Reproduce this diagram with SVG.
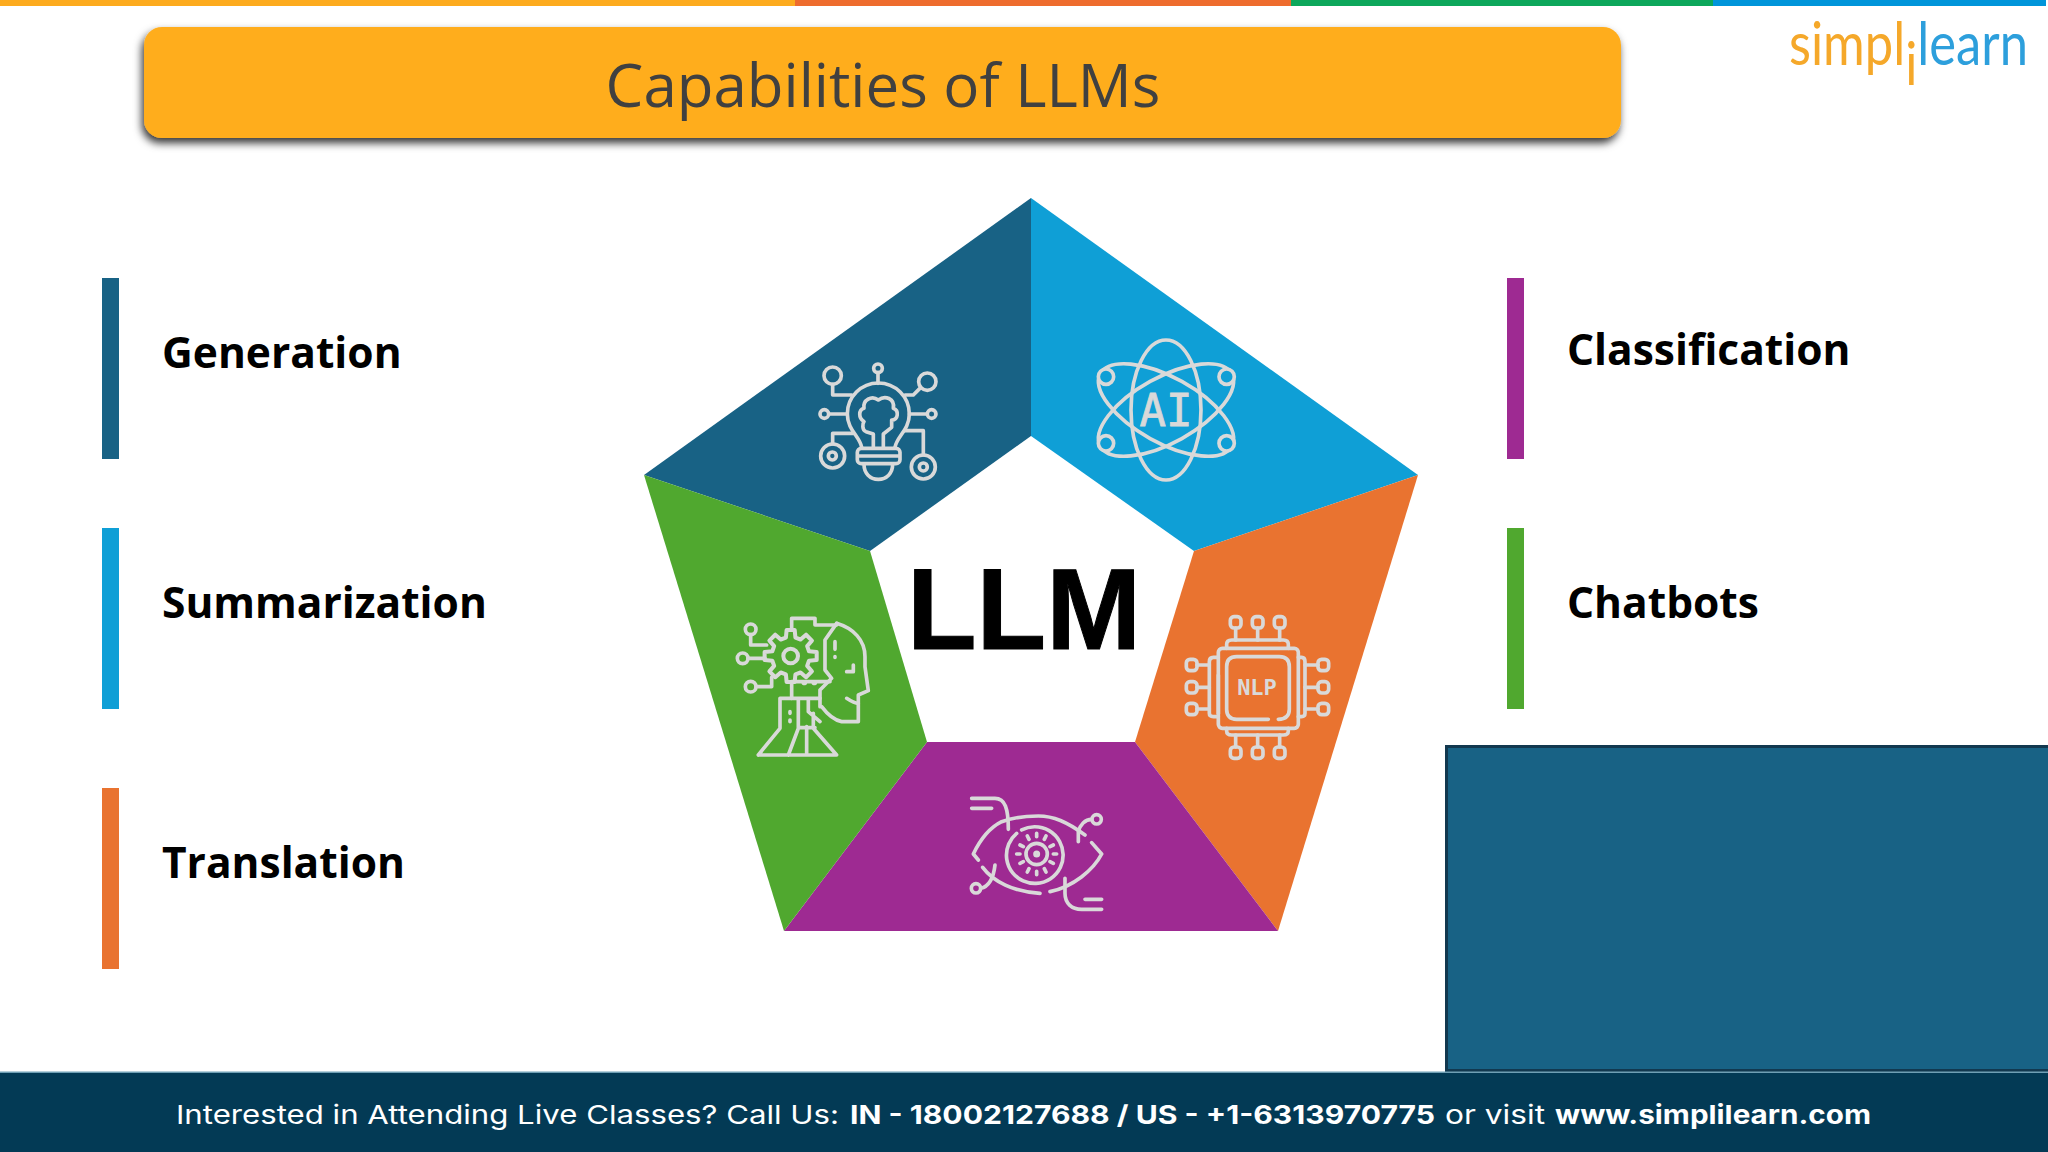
<svg xmlns="http://www.w3.org/2000/svg" xmlns:xlink="http://www.w3.org/1999/xlink" width="2048" height="1152" viewBox="0 0 2048 1152">
<style>
.ic{fill:none;stroke:#d9d9d9;stroke-width:11;stroke-linecap:round;stroke-linejoin:round}
.ict{font-weight:700;fill:#d9d9d9;text-anchor:middle;font-family:"DejaVu Sans Mono",monospace}
.lab{font-family:"Open Sans",sans-serif;font-weight:700;font-size:42.500px;fill:#000}
.ft{font-family:"Inter",sans-serif;font-size:26px;fill:#fff;font-weight:400}
.fb{font-weight:700}
.logo{font-family:"Lato",sans-serif;font-weight:400;font-size:60px}
</style>
<defs>
<filter id="sh" x="-5%" y="-30%" width="110%" height="160%"><feDropShadow dx="-2" dy="5" stdDeviation="4" flood-color="#000" flood-opacity=".8"/></filter>
<rect id="pad" x="-16" y="-17" width="32" height="34" rx="11"/>
</defs>
<rect width="2048" height="1152" fill="#fff"/>
<g id="top-strip">
<rect x="0" y="0" width="795" height="6" fill="#fdab1e"/>
<rect x="795" y="0" width="496" height="6" fill="#ee6c2e"/>
<rect x="1291" y="0" width="422" height="6" fill="#0da75b"/>
<rect x="1713" y="0" width="333" height="6" fill="#0095da"/>
</g>
<g id="title">
<rect x="144" y="27" width="1477" height="111" rx="18" fill="#ffad1f" filter="url(#sh)"/>
<text x="883" y="107" text-anchor="middle" font-family="'Open Sans',sans-serif" font-size="60" fill="#404040">Capabilities of LLMs</text>
</g>
<g id="logo">
<text class="logo" x="1789" y="65" textLength="239" lengthAdjust="spacingAndGlyphs" fill="#f5a82a">simpl<tspan dy="20">i</tspan><tspan dy="-20" fill="#2d9fdc">learn</tspan></text>
</g>
<g id="pentagon">
<polygon id="seg-generation" points="1031,198 644,475 870,551 1031,436" fill="#186285"/>
<polygon id="seg-summarization" points="1031,198 1418,475 1194,551 1031,436" fill="#0f9fd6"/>
<polygon id="seg-translation" points="1418,475 1278,931 1135,742 1194,551" fill="#e97330"/>
<polygon id="seg-classification" points="927,742 1135,742 1278,931 784,931" fill="#9e2a92"/>
<polygon id="seg-chatbots" points="644,475 870,551 927,742 784,931" fill="#50a82f"/>
<text id="llm" x="1024" y="649" text-anchor="middle" font-family="'Liberation Sans',sans-serif" font-weight="700" font-size="115" fill="#000" stroke="#000" stroke-width="1" textLength="234" lengthAdjust="spacingAndGlyphs">LLM</text>
</g>
<g id="icon-bulb" transform="translate(790 340) scale(.3333)" class="ic">
<circle cx="128" cy="107" r="26"/><path d="M128 133V165H185"/>
<circle cx="264" cy="85" r="13"/><path d="M264 98V130"/>
<circle cx="412" cy="125" r="26"/><path d="M392 143L370 165H345"/>
<circle cx="103" cy="222" r="13"/><path d="M116 222H172"/>
<circle cx="425" cy="222" r="13"/><path d="M412 222H358"/>
<circle cx="128" cy="348" r="36"/><circle cx="127" cy="348" r="12"/><path d="M128 312V280H190"/>
<circle cx="400" cy="381" r="36"/><circle cx="400" cy="381" r="12"/><path d="M400 345V272H345"/>
<path d="M215 322C210 290 172 270 172 222A92 92 0 0 1 358 222C358 270 320 290 315 322"/>
<rect x="202" y="325" width="128" height="46" rx="12"/><path d="M205 348H328"/>
<path d="M222 373C222 400 240 418 265 418C290 418 308 400 308 373"/>
<path d="M250 320V282L228 275C215 270 218 250 222 245C205 235 205 210 222 205C218 180 245 165 265 180C285 165 315 175 310 205C328 212 325 240 305 240L305 262L280 282V320"/>
</g>
<g id="icon-ai">
<g transform="translate(1080 325) scale(.3333)" class="ic">
<ellipse cx="258" cy="255" rx="105" ry="210"/>
<ellipse cx="258" cy="255" rx="225" ry="98" transform="rotate(29 258 255)"/>
<ellipse cx="258" cy="255" rx="225" ry="98" transform="rotate(-29 258 255)"/>
<g style="fill:#0f9fd6"><circle cx="78" cy="155" r="23"/><circle cx="440" cy="155" r="23"/><circle cx="78" cy="355" r="23"/><circle cx="440" cy="355" r="23"/></g>
</g>
<text class="ict" x="1166" y="426" font-size="44" style="font-weight:400" stroke="#d9d9d9" stroke-width=".8">AI</text>
</g>
<g id="icon-gearhead" transform="translate(720 600) scale(.3333)" class="ic">
<g transform="translate(212 168) scale(1.1)"><circle r="20"/><path d="M-11 -71L11 -71L13 -50L27 -45L42 -58L58 -42L45 -27L50 -13L71 -11L71 11L50 13L45 27L58 42L42 58L27 45L13 50L11 71L-11 71L-13 50L-27 45L-42 58L-58 42L-45 27L-50 13L-71 11L-71 -11L-50 -13L-45 -27L-58 -42L-42 -58L-27 -45L-13 -50Z"/></g>
<circle cx="92" cy="88" r="16"/><path d="M92 104V135H140"/>
<circle cx="68" cy="175" r="16"/><path d="M84 175H135"/>
<circle cx="92" cy="260" r="16"/><path d="M108 260H155V232"/>
<path d="M215 85V55H285V75H350"/>
<path d="M350 70C400 85 435 120 435 170L435 200L445 272L415 285V365H365C340 360 320 340 305 320"/>
<path d="M350 70L315 120V210L335 235L300 270V320"/>
<path d="M345 125V148M345 170V172M380 215H400V195M380 295C395 305 405 310 415 310"/>
<path d="M215 245V295M215 245H330"/>
<path d="M250 250H256M280 250H286"/>
<path d="M115 465L180 385V295H300M115 465H350L280 385V340M205 465L235 385V295M260 380V465M235 383H285M265 300V335L300 365M210 335V340M210 360V365"/>
</g>
<g id="icon-nlp">
<g transform="translate(1170 600) scale(.3333)" class="ic">
<use href="#pad" x="197" y="67"/><use href="#pad" x="263" y="67"/><use href="#pad" x="329" y="67"/>
<use href="#pad" x="197" y="458"/><use href="#pad" x="263" y="458"/><use href="#pad" x="329" y="458"/>
<use href="#pad" x="65" y="195"/><use href="#pad" x="65" y="262"/><use href="#pad" x="65" y="327"/>
<use href="#pad" x="460" y="195"/><use href="#pad" x="460" y="262"/><use href="#pad" x="460" y="327"/>
<path d="M197 84V120M263 84V120M329 84V120M197 441V405M263 441V405M329 441V405M81 195H118M81 262H118M81 327H118M444 195H405M444 262H405M444 327H405"/>
<path d="M170 145V133Q170 120 185 120H340Q355 120 355 133V145M170 385V393Q170 405 185 405H340Q355 405 355 393V385"/>
<rect x="145" y="145" width="240" height="240" rx="12"/>
<path d="M145 172H130Q118 172 118 185V340Q118 350 130 350H145M385 172H395Q405 172 405 185V340Q405 350 395 350H385"/>
<path d="M295 358H200Q170 358 170 328V200Q170 170 200 170H328Q358 170 358 200V328Q358 358 325 358"/>
<path d="M145 225V340"/>
</g>
<text class="ict" x="1257" y="695" font-size="22">NLP</text>
</g>
<g id="icon-eye" transform="translate(950 780) scale(.3333)" class="ic">
<path d="M65 55H135C165 55 175 85 175 148M65 85H125"/>
<path d="M155 125C190 112 225 108 265 108C310 108 350 125 405 165M155 125C115 145 90 180 70 222L85 240"/>
<path d="M425 188L455 222C430 270 370 320 300 335M98 262C130 305 190 335 270 340"/>
<path d="M215 150A85 85 0 1 1 200 160"/>
<circle cx="260" cy="222" r="32"/><circle cx="260" cy="222" r="5"/>
<path d="M260 160V170M288 168L283 178M310 195L300 200M320 222H310M310 250L300 245M288 276L283 266M260 284V274M232 276L237 266M210 250L220 245M200 222H210M210 195L220 200M232 168L237 178"/>
<path d="M385 185V155C390 135 405 118 425 118"/><circle cx="440" cy="118" r="14"/>
<circle cx="78" cy="325" r="14"/><path d="M92 325C115 320 130 300 135 255"/>
<path d="M345 295V340C345 370 365 388 395 388H455M405 358H455"/>
</g>
<g id="item-generation"><rect x="102" y="278" width="17" height="181" fill="#186285"/><text class="lab" x="162" y="368">Generation</text></g>
<g id="item-summarization"><rect x="102" y="528" width="17" height="181" fill="#0f9fd6"/><text class="lab" x="162" y="618">Summarization</text></g>
<g id="item-translation"><rect x="102" y="788" width="17" height="181" fill="#e97330"/><text class="lab" x="162" y="878">Translation</text></g>
<g id="item-classification"><rect x="1507" y="278" width="17" height="181" fill="#9e2a92"/><text class="lab" x="1567" y="365">Classification</text></g>
<g id="item-chatbots"><rect x="1507" y="528" width="17" height="181" fill="#50a82f"/><text class="lab" x="1567" y="618">Chatbots</text></g>
<g id="blue-panel"><rect x="1446.5" y="746.5" width="603" height="324" fill="#186285" stroke="#12384f" stroke-width="3"/></g>
<g id="footer">
<rect x="0" y="1072" width="2048" height="80" fill="#033a55"/>
<rect x="0" y="1071.500" width="2048" height="1.500" fill="#6f9fb5"/>
<text class="ft" x="176" y="1124" textLength="663" lengthAdjust="spacingAndGlyphs">Interested in Attending Live Classes? Call Us:</text>
<text class="ft fb" x="850" y="1124" textLength="585" lengthAdjust="spacingAndGlyphs">IN - 18002127688 / US - +1-6313970775</text>
<text class="ft" x="1445" y="1124" textLength="100" lengthAdjust="spacingAndGlyphs">or visit</text>
<text class="ft fb" x="1555" y="1124" textLength="316" lengthAdjust="spacingAndGlyphs">www.simplilearn.com</text>
</g>
</svg>
